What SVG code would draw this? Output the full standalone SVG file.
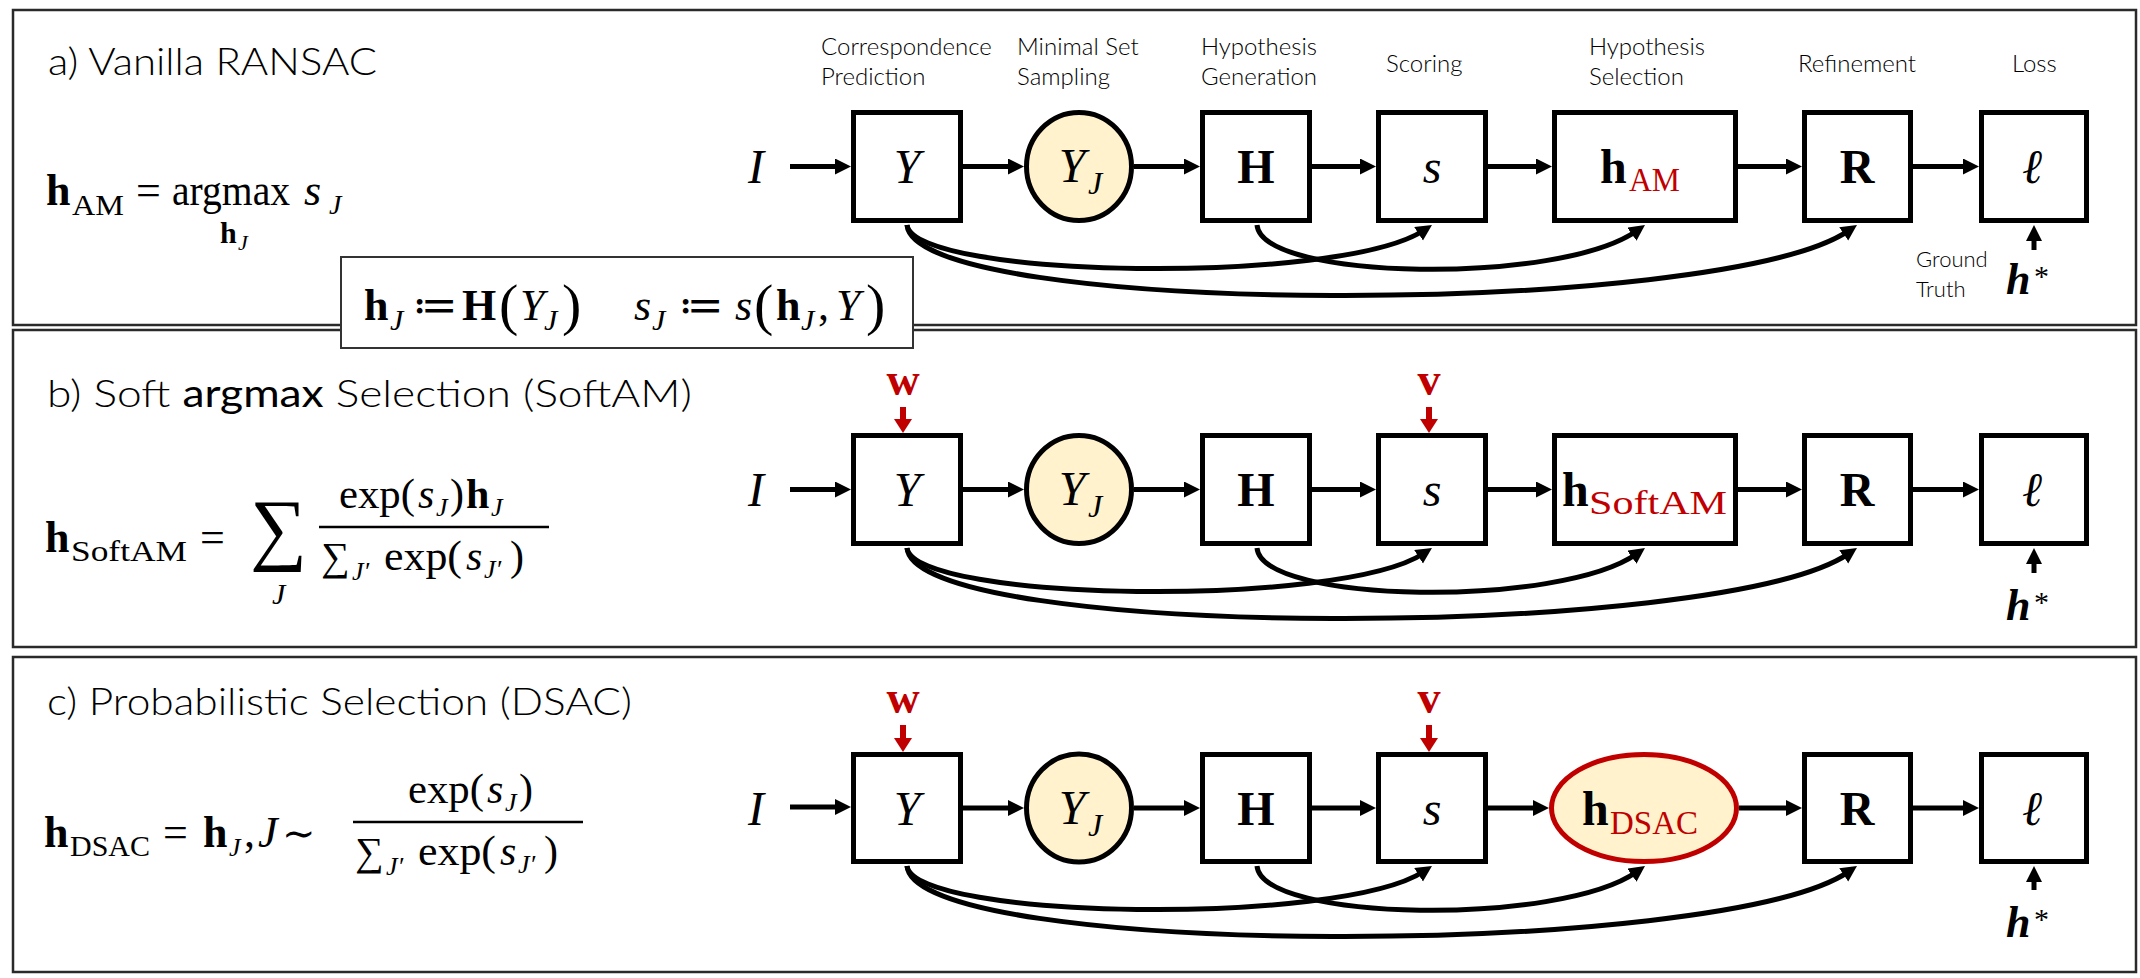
<svg xmlns="http://www.w3.org/2000/svg" width="2140" height="978" viewBox="0 0 2140 978">
<defs>
<style>
.panel{fill:#fff;stroke:#2a2a2a;stroke-width:2.5}
.ttl{font-family:Lato,"Liberation Sans",sans-serif;font-weight:300;font-size:38px;fill:#000}
.lbl{font-family:Lato,"Liberation Sans",sans-serif;font-weight:300;font-size:24px;fill:#000}
.gt{font-family:Lato,"Liberation Sans",sans-serif;font-weight:300;font-size:22px;fill:#000}
.m{font-family:"Liberation Serif","DejaVu Serif",serif;fill:#000}
.i{font-style:italic}
.b{font-weight:bold}
.red{fill:#C00000}
.n{font-size:48px}
.box{fill:#fff;stroke:#000;stroke-width:5}
.ell{fill:#FFF2CC;stroke:#000;stroke-width:5}
.ellr{fill:#FFF2CC;stroke:#C00000;stroke-width:5}
.arr{fill:none;stroke:#000;stroke-width:5;marker-end:url(#ah)}
.rarr{fill:none;stroke:#C00000;stroke-width:6;marker-end:url(#rah)}
.bar{stroke:#000;stroke-width:2.5}
.fbox{fill:#fff;stroke:#333;stroke-width:2}
</style>
<marker id="ah" markerUnits="userSpaceOnUse" markerWidth="18" markerHeight="18" viewBox="0 0 18 18" refX="6" refY="8" orient="auto"><path d="M0,0 L16,8 L0,16 z" fill="#000"/></marker>
<marker id="rah" markerUnits="userSpaceOnUse" markerWidth="20" markerHeight="20" viewBox="0 0 20 20" refX="4" refY="9" orient="auto"><path d="M0,0 L14,9 L0,18 z" fill="#C00000"/></marker>
</defs>

<g id="panels">
<rect class="panel" x="13" y="10" width="2123" height="315"/>
<rect class="panel" x="13" y="330" width="2123" height="317"/>
<rect class="panel" x="13" y="657" width="2123" height="315"/>
</g>

<g id="titles">
<text class="ttl" x="48" y="75" textLength="329" lengthAdjust="spacingAndGlyphs">a) Vanilla RANSAC</text>
<text class="ttl" x="47" y="407" textLength="645" lengthAdjust="spacingAndGlyphs">b) Soft <tspan font-weight="400">argmax</tspan> Selection (SoftAM)</text>
<text class="ttl" x="47" y="715" textLength="585" lengthAdjust="spacingAndGlyphs">c) Probabilistic Selection (DSAC)</text>
</g>

<g id="stage-labels">
<text class="lbl" x="821" y="55">Correspondence</text>
<text class="lbl" x="821" y="85">Prediction</text>
<text class="lbl" x="1017" y="55">Minimal Set</text>
<text class="lbl" x="1017" y="85">Sampling</text>
<text class="lbl" x="1201" y="55">Hypothesis</text>
<text class="lbl" x="1201" y="85">Generation</text>
<text class="lbl" x="1386" y="72">Scoring</text>
<text class="lbl" x="1589" y="55">Hypothesis</text>
<text class="lbl" x="1589" y="85">Selection</text>
<text class="lbl" x="1798" y="72">Refinement</text>
<text class="lbl" x="2012" y="72">Loss</text>
</g>

<g id="formula-a">
<text class="m b" x="46" y="205" font-size="44">h</text>
<text class="m" x="72" y="215" font-size="30" textLength="52" lengthAdjust="spacingAndGlyphs">AM</text>
<text class="m" x="136" y="205" font-size="44">=</text>
<text class="m" x="172" y="205" font-size="44" textLength="118" lengthAdjust="spacingAndGlyphs">argmax</text>
<text class="m i" x="304" y="205" font-size="44">s</text>
<text class="m i" x="329" y="214" font-size="28">J</text>
<text class="m b" x="220" y="243" font-size="30">h</text>
<text class="m i" x="238" y="250" font-size="22">J</text>
</g>

<g id="formula-b">
<text class="m b" x="45" y="552" font-size="44">h</text>
<text class="m" x="71" y="561" font-size="30" textLength="116" lengthAdjust="spacingAndGlyphs">SoftAM</text>
<text class="m" x="200" y="552" font-size="44">=</text>
<text class="m" x="250" y="555" font-size="80">∑</text>
<text class="m i" x="272" y="604" font-size="30">J</text>
<text class="m" x="339" y="508" font-size="42" textLength="76" lengthAdjust="spacingAndGlyphs">exp(</text>
<text class="m i" x="418" y="508" font-size="42">s</text>
<text class="m i" x="436" y="516" font-size="26">J</text>
<text class="m" x="450" y="508" font-size="42">)</text>
<text class="m b" x="466" y="508" font-size="42">h</text>
<text class="m i" x="491" y="516" font-size="26">J</text>
<line class="bar" x1="319" y1="527" x2="549" y2="527"/>
<text class="m" x="321" y="570" font-size="40">∑</text>
<text class="m i" x="352" y="580" font-size="26">J′</text>
<text class="m" x="384" y="570" font-size="42" textLength="78" lengthAdjust="spacingAndGlyphs">exp(</text>
<text class="m i" x="466" y="570" font-size="42">s</text>
<text class="m i" x="484" y="578" font-size="26">J′</text>
<text class="m" x="510" y="570" font-size="42">)</text>
</g>

<g id="formula-c">
<text class="m b" x="44" y="847" font-size="44">h</text>
<text class="m" x="70" y="856" font-size="30" textLength="80" lengthAdjust="spacingAndGlyphs">DSAC</text>
<text class="m" x="163" y="847" font-size="44">=</text>
<text class="m b" x="203" y="847" font-size="44">h</text>
<text class="m i" x="229" y="856" font-size="26">J</text>
<text class="m" x="244" y="847" font-size="44">,</text>
<text class="m i" x="258" y="847" font-size="44">J</text>
<text class="m" x="282" y="847" font-size="40">∼</text>
<text class="m" x="408" y="803" font-size="42" textLength="76" lengthAdjust="spacingAndGlyphs">exp(</text>
<text class="m i" x="487" y="803" font-size="42">s</text>
<text class="m i" x="505" y="811" font-size="26">J</text>
<text class="m" x="519" y="803" font-size="42">)</text>
<line class="bar" x1="353" y1="822" x2="583" y2="822"/>
<text class="m" x="355" y="865" font-size="40">∑</text>
<text class="m i" x="386" y="875" font-size="26">J′</text>
<text class="m" x="418" y="865" font-size="42" textLength="78" lengthAdjust="spacingAndGlyphs">exp(</text>
<text class="m i" x="500" y="865" font-size="42">s</text>
<text class="m i" x="518" y="873" font-size="26">J′</text>
<text class="m" x="544" y="865" font-size="42">)</text>
</g>

<g id="def-box">
<rect class="fbox" x="341" y="257" width="572" height="91"/>
<text class="m b" x="364" y="320" font-size="44">h</text>
<text class="m i" x="390" y="330" font-size="30">J</text>
<text class="m" x="412" y="320" font-size="44">≔</text>
<text class="m b" x="462" y="320" font-size="44">H</text>
<text class="m" x="499" y="324" font-size="58">(</text>
<text class="m i" x="520" y="320" font-size="44">Y</text>
<text class="m i" x="544" y="330" font-size="30">J</text>
<text class="m" x="562" y="324" font-size="58">)</text>
<text class="m i" x="634" y="320" font-size="44">s</text>
<text class="m i" x="652" y="330" font-size="30">J</text>
<text class="m" x="678" y="320" font-size="44">≔</text>
<text class="m i" x="735" y="320" font-size="44">s</text>
<text class="m" x="754" y="324" font-size="58">(</text>
<text class="m b" x="776" y="320" font-size="44">h</text>
<text class="m i" x="801" y="330" font-size="30">J</text>
<text class="m" x="818" y="320" font-size="44">,</text>
<text class="m i" x="836" y="320" font-size="44">Y</text>
<text class="m" x="866" y="324" font-size="58">)</text>
</g>

<g id="a-I"><text class="m i n" x="748" y="183">I</text></g>
<g id="a-Y"><rect class="box" x="853.5" y="112.5" width="107" height="108"/><text class="m i n" x="907" y="183" text-anchor="middle">Y</text></g>
<g id="a-YJ"><ellipse class="ell" cx="1079" cy="166.5" rx="52.5" ry="54"/><text class="m i n" x="1072" y="182" text-anchor="middle">Y</text><text class="m i" x="1088" y="194" font-size="32">J</text></g>
<g id="a-H"><rect class="box" x="1202.5" y="112.5" width="107" height="108"/><text class="m b n" x="1256" y="183" text-anchor="middle">H</text></g>
<g id="a-s"><rect class="box" x="1378.5" y="112.5" width="107" height="108"/><text class="m i n" x="1432" y="183" text-anchor="middle">s</text></g>
<g id="a-hAM"><rect class="box" x="1554.5" y="112.5" width="181" height="108"/><text class="m b n" x="1600" y="183">h</text><text class="m red" x="1629" y="191" font-size="34" textLength="51" lengthAdjust="spacingAndGlyphs">AM</text></g>
<g id="a-R"><rect class="box" x="1804.5" y="112.5" width="106" height="108"/><text class="m b n" x="1857" y="183" text-anchor="middle">R</text></g>
<g id="a-loss"><rect class="box" x="1981.5" y="112.5" width="105" height="108"/><text class="m i n" x="2032" y="183" text-anchor="middle">ℓ</text></g>
<g id="a-gt"><text class="gt" x="1916" y="267">Ground</text><text class="gt" x="1916" y="297">Truth</text><text class="m b i" x="2006" y="294" font-size="44">h</text><text class="m" x="2034" y="286" font-size="30">*</text></g>

<g id="b-I"><text class="m i n" x="748" y="506">I</text></g>
<g id="b-w"><text class="m b red" x="903" y="395" font-size="46" text-anchor="middle">w</text></g>
<g id="b-Y"><rect class="box" x="853.5" y="435.5" width="107" height="108"/><text class="m i n" x="907" y="506" text-anchor="middle">Y</text></g>
<g id="b-YJ"><ellipse class="ell" cx="1079" cy="489.5" rx="52.5" ry="54"/><text class="m i n" x="1072" y="505" text-anchor="middle">Y</text><text class="m i" x="1088" y="517" font-size="32">J</text></g>
<g id="b-H"><rect class="box" x="1202.5" y="435.5" width="107" height="108"/><text class="m b n" x="1256" y="506" text-anchor="middle">H</text></g>
<g id="b-v"><text class="m b red" x="1429" y="395" font-size="46" text-anchor="middle">v</text></g>
<g id="b-s"><rect class="box" x="1378.5" y="435.5" width="107" height="108"/><text class="m i n" x="1432" y="506" text-anchor="middle">s</text></g>
<g id="b-hSoftAM"><rect class="box" x="1554.5" y="435.5" width="181" height="108"/><text class="m b n" x="1562" y="506">h</text><text class="m red" x="1589" y="514" font-size="34" textLength="138" lengthAdjust="spacingAndGlyphs">SoftAM</text></g>
<g id="b-R"><rect class="box" x="1804.5" y="435.5" width="106" height="108"/><text class="m b n" x="1857" y="506" text-anchor="middle">R</text></g>
<g id="b-loss"><rect class="box" x="1981.5" y="435.5" width="105" height="108"/><text class="m i n" x="2032" y="506" text-anchor="middle">ℓ</text></g>
<g id="b-gt"><text class="m b i" x="2006" y="620" font-size="44">h</text><text class="m" x="2034" y="612" font-size="30">*</text></g>

<g id="c-I"><text class="m i n" x="748" y="825">I</text></g>
<g id="c-w"><text class="m b red" x="903" y="713" font-size="46" text-anchor="middle">w</text></g>
<g id="c-Y"><rect class="box" x="853.5" y="754.5" width="107" height="107"/><text class="m i n" x="907" y="825" text-anchor="middle">Y</text></g>
<g id="c-YJ"><ellipse class="ell" cx="1079" cy="808" rx="52.5" ry="54"/><text class="m i n" x="1072" y="824" text-anchor="middle">Y</text><text class="m i" x="1088" y="836" font-size="32">J</text></g>
<g id="c-H"><rect class="box" x="1202.5" y="754.5" width="107" height="107"/><text class="m b n" x="1256" y="825" text-anchor="middle">H</text></g>
<g id="c-v"><text class="m b red" x="1429" y="713" font-size="46" text-anchor="middle">v</text></g>
<g id="c-s"><rect class="box" x="1378.5" y="754.5" width="107" height="107"/><text class="m i n" x="1432" y="825" text-anchor="middle">s</text></g>
<g id="c-hDSAC"><ellipse class="ellr" cx="1644" cy="808" rx="92.5" ry="53.5"/><text class="m b n" x="1582" y="825">h</text><text class="m red" x="1610" y="834" font-size="34" textLength="88" lengthAdjust="spacingAndGlyphs">DSAC</text></g>
<g id="c-R"><rect class="box" x="1804.5" y="754.5" width="106" height="107"/><text class="m b n" x="1857" y="825" text-anchor="middle">R</text></g>
<g id="c-loss"><rect class="box" x="1981.5" y="754.5" width="105" height="107"/><text class="m i n" x="2032" y="825" text-anchor="middle">ℓ</text></g>
<g id="c-gt"><text class="m b i" x="2006" y="937" font-size="44">h</text><text class="m" x="2034" y="929" font-size="30">*</text></g>

<g id="connectors">
<path class="arr" d="M790,166.5 H841"/>
<path class="arr" d="M963,166.5 H1014"/>
<path class="arr" d="M1134,166.5 H1190"/>
<path class="arr" d="M1312,166.5 H1366"/>
<path class="arr" d="M1488,166.5 H1542"/>
<path class="arr" d="M1738,166.5 H1792"/>
<path class="arr" d="M1913,166.5 H1969"/>
<path class="arr" d="M907,225 C915,279 1340,285 1423.6,230.5"/>
<path class="arr" d="M907,225 C915,318 1720,318 1848.7,230.6"/>
<path class="arr" d="M1257,225 C1262,281 1560,285 1636.8,230.8"/>
<path class="arr" d="M2034,250 V235"/>

<path class="arr" d="M790,489.5 H841"/>
<path class="arr" d="M963,489.5 H1014"/>
<path class="arr" d="M1134,489.5 H1190"/>
<path class="arr" d="M1312,489.5 H1366"/>
<path class="arr" d="M1488,489.5 H1542"/>
<path class="arr" d="M1738,489.5 H1792"/>
<path class="arr" d="M1913,489.5 H1969"/>
<path class="arr" d="M907,548 C915,602 1340,608 1423.6,553.5"/>
<path class="arr" d="M907,548 C915,641 1720,641 1848.7,553.6"/>
<path class="arr" d="M1257,548 C1262,604 1560,608 1636.8,553.8"/>
<path class="arr" d="M2034,573 V558"/>
<path class="rarr" d="M903,407 V423"/>
<path class="rarr" d="M1429,407 V423"/>

<path class="arr" d="M790,807 H841"/>
<path class="arr" d="M963,808 H1014"/>
<path class="arr" d="M1134,808 H1190"/>
<path class="arr" d="M1312,808 H1366"/>
<path class="arr" d="M1488,808 H1539"/>
<path class="arr" d="M1739,808 H1792"/>
<path class="arr" d="M1913,808 H1969"/>
<path class="arr" d="M907,866 C915,920 1340,926 1423.6,871.5"/>
<path class="arr" d="M907,866 C915,959 1720,959 1848.7,871.6"/>
<path class="arr" d="M1257,866 C1262,922 1560,926 1636.8,871.8"/>
<path class="arr" d="M2034,890 V876"/>
<path class="rarr" d="M903,725 V742"/>
<path class="rarr" d="M1429,725 V742"/>
</g>
</svg>
